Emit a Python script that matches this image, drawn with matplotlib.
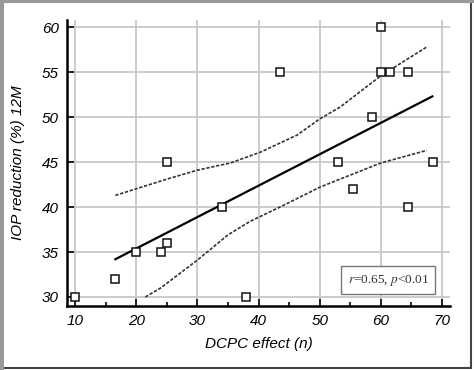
import matplotlib
matplotlib.use("Agg")
import matplotlib.pyplot as plt
from matplotlib.patches import Rectangle

# data
dcpc = [10, 16.5, 20, 24, 25, 25, 34, 38, 43.5, 53, 55.5, 58.5, 60, 60, 61.5, 64.5, 64.5, 68.5]
iop = [30, 32, 35, 35, 36, 45, 40, 30, 55, 45, 42, 50, 60, 55, 55, 55, 40, 45]

# regression line ends
fit_x = [16.6, 68.4]
fit_y = [34.2, 52.3]

# confidence band
up_x = [16.6, 25, 30, 35.4, 40.3, 46.3, 50, 53.3, 60, 67.5]
up_y = [41.3, 43.1, 44.1, 44.9, 46.1, 48.0, 49.8, 51.1, 54.6, 57.8]
lo_x = [21.5, 24, 30, 35, 38.6, 43.5, 50, 53.3, 60, 67.5]
lo_y = [30.0, 31.0, 34.1, 36.9, 38.4, 40.0, 42.2, 43.1, 44.9, 46.3]

x_ticks = [10, 20, 30, 40, 50, 60, 70]
y_ticks = [30, 35, 40, 45, 50, 55, 60]

plt.rcParams['font.family'] = ['Liberation Sans', 'DejaVu Sans']
plt.rcParams['mathtext.fontset'] = 'stix'

fig = plt.figure(figsize=(4.74, 3.70), dpi=100)
ax = fig.add_axes([0.1414, 0.173, 0.808, 0.773])

ax.set_xlim(8.7, 71.3)
ax.set_ylim(29.0, 60.8)

ax.set_xticks(x_ticks)
ax.set_yticks(y_ticks)
ax.set_xticks([15, 25, 35, 45, 55, 65], minor=True)
ax.grid(True, color='#c4c4c4', lw=1.2)
ax.set_axisbelow(True)

for s in ['top', 'right']:
    ax.spines[s].set_visible(False)
for s in ['left', 'bottom']:
    ax.spines[s].set_linewidth(1.8)

ax.tick_params(axis='both', which='major', direction='in', length=5, width=1.2,
               labelsize=11, pad=6)
ax.tick_params(axis='x', which='minor', direction='in', length=3, width=1.2)
for lab in ax.get_xticklabels() + ax.get_yticklabels():
    lab.set_fontstyle('italic')

ax.plot(lo_x, lo_y, color='#333333', lw=1.2, ls=(0, (2, 1)))
ax.plot(up_x, up_y, color='#333333', lw=1.2, ls=(0, (2, 1)))
ax.plot(fit_x, fit_y, color='black', lw=1.6)

ax.plot(dcpc, iop, ls='none', marker='s', ms=5.2, mfc='white', mec='#111111',
        mew=1.1, clip_on=False)

ax.set_xlabel('DCPC effect (n)', fontsize=11, style='italic', labelpad=6)
ax.set_ylabel('IOP reduction (%) 12M', fontsize=11, style='italic', labelpad=12)

ax.text(61.2, 31.85, r'$r$=0.65, $p$<0.01', fontsize=9.5, family='Liberation Serif',
        color='#333333', ha='center', va='center',
        bbox=dict(boxstyle='square,pad=0.5', fc='white', ec='#777777', lw=1.0))

# picture frame
fig.patches.append(Rectangle((0.004, 0.005), 0.99, 0.99, transform=fig.transFigure,
                             fill=False, ec='#444444', lw=1.5))
fig.patches.append(Rectangle((0.0, 0.0), 0.008, 1.0, transform=fig.transFigure,
                             fc='#999999', ec='none'))
fig.patches.append(Rectangle((0.0, 0.993), 1.0, 0.007, transform=fig.transFigure,
                             fc='#999999', ec='none'))

fig.savefig('out.png', dpi=100)
